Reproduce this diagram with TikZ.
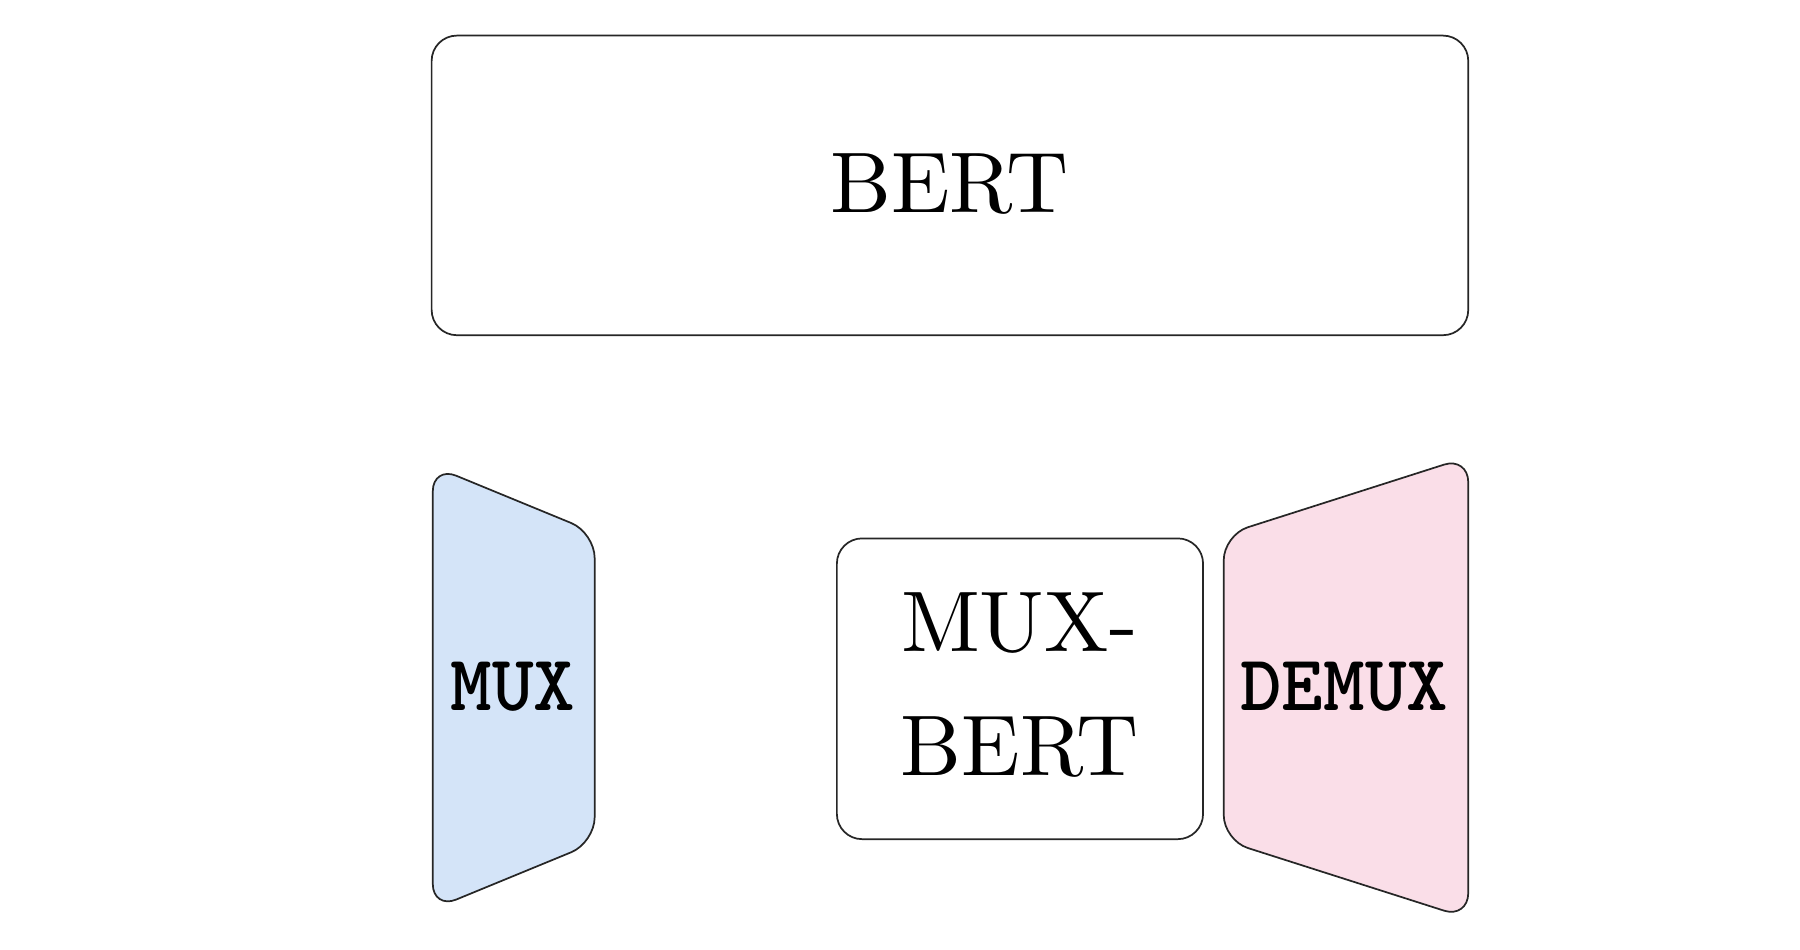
\documentclass[tikz,border=0pt]{standalone}
\usepackage{tikz}
\usepackage{graphicx}
\definecolor{muxblue}{RGB}{212,228,248}
\definecolor{demuxpink}{RGB}{250,222,232}

\begin{document}
\begin{tikzpicture}[
        x = 1pt, y = -1pt,
        line join=round,
        block/.style = {draw=black!85, line width=1.5pt, rounded corners=22pt},
        label/.style = {inner sep=0pt},
        ttlabel/.style = {inner sep=0pt, font=\ttfamily\bfseries}
    ]

    \useasboundingbox (0, 0) rectangle (1568, 827);

        \coordinate (m1) at (377, 406);
        \coordinate (m2) at (518, 464);
        \coordinate (m3) at (518, 734);
        \coordinate (m4) at (377, 792);

        \coordinate (d1) at (1066, 466);
        \coordinate (d2) at (1279, 398);
        \coordinate (d3) at (1279, 800);
        \coordinate (d4) at (1066, 732);

    \draw[block, fill=white] (376, 31) rectangle (1279, 292);
    \draw[block, fill=white] (729, 469) rectangle (1048, 731);
    \draw[block, fill=muxblue] (m1) -- (m2) -- (m3) -- (m4) -- cycle;
    \draw[block, fill=demuxpink] (d1) -- (d2) -- (d3) -- (d4) -- cycle;

    \node[label] (bert) at (827, 160) {\scalebox{7.5}{BERT}};
    \node[label] (muxbert) at (888, 600)
        {\scalebox{7.5}{\renewcommand{\arraystretch}{1.2}\begin{tabular}{@{}c@{}}MUX-\\BERT\end{tabular}}};
    \node[ttlabel] (mux) at (447, 598) {\scalebox{6.9}{MUX}};
    \node[ttlabel] (demux) at (1171, 598) {\scalebox{6.9}{DEMUX}};

\end{tikzpicture}
\end{document}
